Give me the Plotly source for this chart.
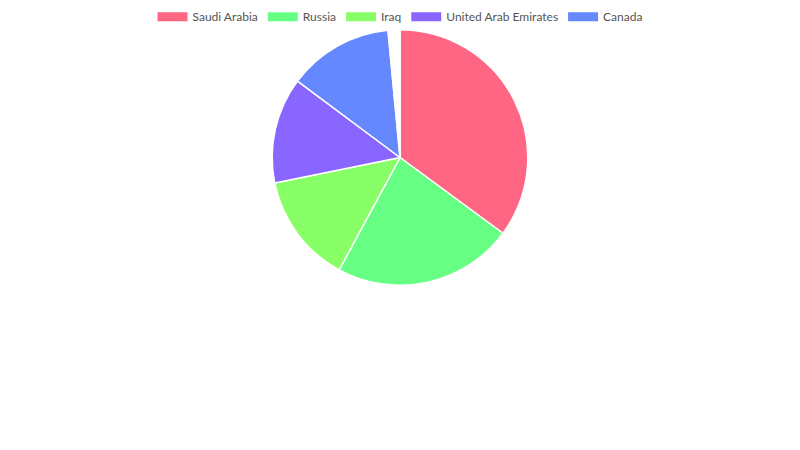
import plotly.graph_objects as go

countries = ["Saudi Arabia", "Russia", "Iraq", "United Arab Emirates", "Canada"]
shares = [35.1, 22.8, 13.9, 13.4, 13.3]
gap_share = 1.5  # unlabelled remainder, drawn blank at the top
colors = ["#ff6684", "#66ff84", "#88ff66", "#8866ff", "#6688ff"]

fig = go.Figure()

fig.add_trace(go.Pie(
    labels=countries + ["(remainder)"],
    values=shares + [gap_share],
    marker=dict(colors=colors + ["rgba(255,255,255,0)"],
                line=dict(color="white", width=1.5)),
    sort=False,
    direction="clockwise",
    rotation=0,
    textinfo="none",
    hoverinfo="label+value",
    showlegend=False,
    domain=dict(x=[0, 1], y=[0.366, 0.934]),
))

# legend entries as wide coloured boxes
for name, col in zip(countries, colors):
    fig.add_trace(go.Scatter(
        x=[None], y=[None], mode="lines", name=name,
        line=dict(color=col, width=9),
        hoverinfo="skip",
    ))

fig.update_layout(
    width=800, height=450,
    margin=dict(l=0, r=0, t=0, b=0),
    paper_bgcolor="white",
    plot_bgcolor="white",
    font=dict(family="Lato", size=12, color="#666"),
    xaxis=dict(visible=False),
    yaxis=dict(visible=False),
    legend=dict(
        orientation="h",
        x=0.5, xanchor="center",
        y=0.995, yanchor="top",
        itemwidth=30,
        font=dict(family="Lato", size=12, color="#555"),
        bgcolor="rgba(0,0,0,0)",
    ),
)

# drop the browser's default page margin so the figure sits at the corner
fig.write_html("out.html", config={"displayModeBar": False},
               post_script="document.body.style.margin='0';")
